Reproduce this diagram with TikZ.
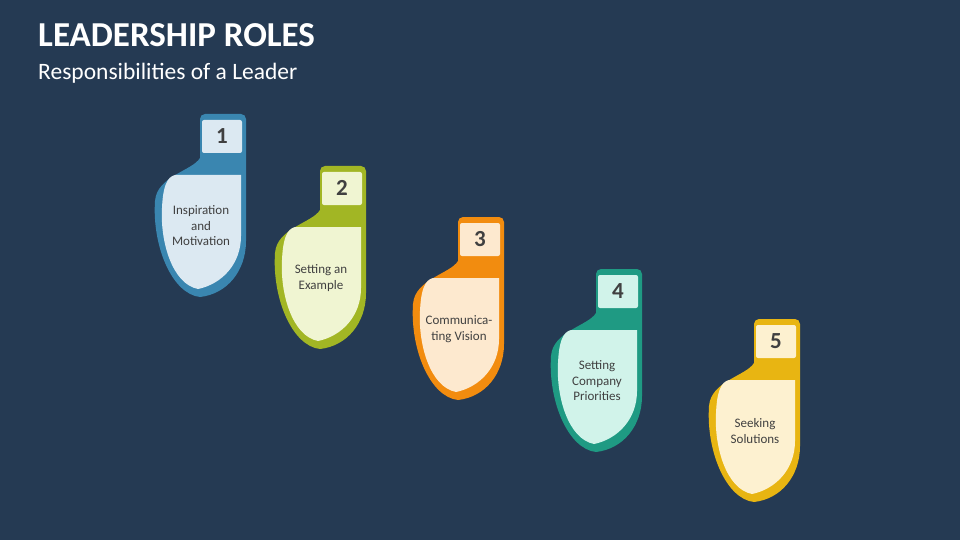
\documentclass[tikz,border=0pt]{standalone}
\usepackage{fontspec}
\setmainfont{Carlito}
\definecolor{bg}{HTML}{253A53}
\definecolor{o1}{HTML}{3A86B0}\definecolor{i1}{HTML}{DCE9F2}
\definecolor{o2}{HTML}{A2B624}\definecolor{i2}{HTML}{F0F5D2}
\definecolor{o3}{HTML}{F28C0F}\definecolor{i3}{HTML}{FDE9CF}
\definecolor{o4}{HTML}{1F9A83}\definecolor{i4}{HTML}{D1F3EA}
\definecolor{o5}{HTML}{E8B512}\definecolor{i5}{HTML}{FDF1D0}
\tikzset{
 lbl/.style={align=center,font=\fontsize{13}{15.5}\selectfont,text=black!75},
 num/.style={font=\bfseries\fontsize{23}{26}\selectfont,text=black!75}
}
\begin{document}
\begin{tikzpicture}[x=1pt,y=-1pt]
\fill[bg] (0,0) rectangle (960,540);
\useasboundingbox (0,0) rectangle (960,540);
\node[anchor=west,inner sep=0,text=white,font=\bfseries\fontsize{35}{40}\selectfont] (title) at (38,35) {LEADERSHIP ROLES};
\node[anchor=west,inner sep=0,text=white,font=\fontsize{23.5}{27}\selectfont] (sub) at (38,73) {Responsibilities of a Leader};
\foreach \k/\cx/\cy/\t in {1/222/136/{Inspiration\\and\\Motivation},2/342/188/{Setting an\\Example},3/480/239/{Communica-\\ting Vision},4/618/291/{Setting\\Company\\Priorities},5/776/341/{Seeking\\Solutions}}{
\begin{scope}[shift={(\cx,\cy)}]
\fill[o\k,rounded corners=5] (-22,-22) -- (24,-22) -- (24,100) [sharp corners] .. controls (24,135) and (5,158) .. (-22,161)
  .. controls (-50,158) and (-70,110) .. (-67,65) .. controls (-65,40) and (-30,35) .. (-22,22) [rounded corners=5] -- cycle;
\fill[i\k] (-47,39) -- (19,39) -- (19,100) .. controls (19,128) and (0,148) .. (-24,153)
  .. controls (-50,148) and (-62,105) .. (-60,72) .. controls (-59,50) and (-55,41) .. (-47,39) -- cycle;
\fill[i\k,rounded corners=2] (-20,-16) rectangle (20,17);
\node[num] (n\k) at (0,0) {\k};
\node[lbl] (t\k) at (-21,90) {\t};
\end{scope}}
\end{tikzpicture}
\end{document}
